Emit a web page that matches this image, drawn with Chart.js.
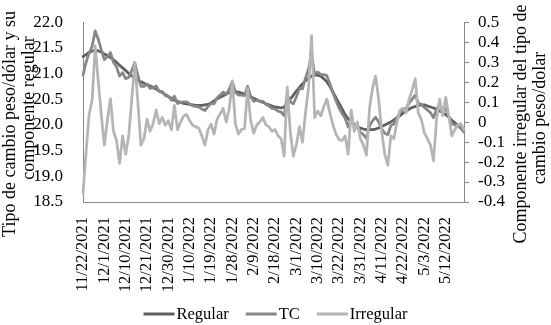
<!DOCTYPE html>
<html>
<head>
<meta charset="utf-8">
<script src="https://cdn.jsdelivr.net/npm/chart.js@4.4.0/dist/chart.umd.min.js"></script>
<style>
  html, body { margin: 0; padding: 0; background: #fff; }
  #wrap { width: 551px; height: 325px; }
</style>
</head>
<body>
<div id="wrap"><canvas id="chart" width="551" height="325"></canvas></div>
<script>
// business days, Banxico FIX
var dates = [
  '11/22/2021','11/23/2021','11/24/2021','11/25/2021','11/26/2021','11/29/2021','11/30/2021',
  '12/1/2021','12/2/2021','12/3/2021','12/6/2021','12/7/2021','12/8/2021','12/9/2021',
  '12/10/2021','12/13/2021','12/14/2021','12/15/2021','12/16/2021','12/17/2021','12/20/2021',
  '12/21/2021','12/22/2021','12/23/2021','12/24/2021','12/27/2021','12/28/2021','12/29/2021',
  '12/30/2021','12/31/2021','1/3/2022','1/4/2022','1/5/2022','1/6/2022','1/7/2022',
  '1/10/2022','1/11/2022','1/12/2022','1/13/2022','1/14/2022','1/17/2022','1/18/2022',
  '1/19/2022','1/20/2022','1/21/2022','1/24/2022','1/25/2022','1/26/2022','1/27/2022',
  '1/28/2022','1/31/2022','2/1/2022','2/2/2022','2/3/2022','2/4/2022','2/8/2022',
  '2/9/2022','2/10/2022','2/11/2022','2/14/2022','2/15/2022','2/16/2022','2/17/2022',
  '2/18/2022','2/21/2022','2/22/2022','2/23/2022','2/24/2022','2/25/2022','2/28/2022',
  '3/1/2022','3/2/2022','3/3/2022','3/4/2022','3/7/2022','3/8/2022','3/9/2022',
  '3/10/2022','3/11/2022','3/14/2022','3/15/2022','3/16/2022','3/17/2022','3/18/2022',
  '3/22/2022','3/23/2022','3/24/2022','3/25/2022','3/28/2022','3/29/2022','3/30/2022',
  '3/31/2022','4/1/2022','4/4/2022','4/5/2022','4/6/2022','4/7/2022','4/8/2022',
  '4/11/2022','4/12/2022','4/13/2022','4/18/2022','4/19/2022','4/20/2022','4/21/2022',
  '4/22/2022','4/25/2022','4/26/2022','4/27/2022','4/28/2022','4/29/2022','5/2/2022',
  '5/3/2022','5/4/2022','5/5/2022','5/6/2022','5/9/2022','5/10/2022','5/11/2022',
  '5/12/2022','5/13/2022','5/16/2022','5/17/2022','5/18/2022','5/19/2022','5/20/2022'
];

var regular = [
  21.33,21.37,21.41,21.44,21.45,21.44,21.42,21.38,21.35,21.31,
  21.27,21.22,21.16,21.11,21.06,21.00,20.95,20.91,20.87,20.84,
  20.81,20.78,20.76,20.73,20.70,20.66,20.63,20.59,20.55,20.52,
  20.48,20.46,20.44,20.42,20.41,20.40,20.39,20.38,20.38,20.38,
  20.39,20.40,20.43,20.47,20.51,20.54,20.57,20.60,20.63,20.64,
  20.65,20.64,20.62,20.60,20.58,20.55,20.52,20.49,20.46,20.44,
  20.41,20.39,20.37,20.35,20.34,20.33,20.35,20.41,20.50,20.58,
  20.66,20.73,20.80,20.86,20.91,20.95,20.97,20.97,20.95,20.90,
  20.84,20.75,20.64,20.53,20.42,20.31,20.20,20.12,20.06,20.01,
  19.97,19.94,19.92,19.91,19.91,19.91,19.92,19.94,19.97,20.00,
  20.03,20.06,20.10,20.14,20.18,20.23,20.27,20.31,20.34,20.36,
  20.38,20.39,20.39,20.37,20.35,20.33,20.30,20.27,20.24,20.20,
  20.15,20.09,20.04,19.99,19.94,19.90
];

var tc = [
  20.97,21.22,21.40,21.53,21.83,21.67,21.46,21.27,21.33,21.41,
  21.22,21.13,20.95,21.02,20.90,20.93,21.06,21.21,20.97,20.75,
  20.75,20.80,20.71,20.72,20.76,20.65,20.65,20.57,20.56,20.48,
  20.56,20.42,20.44,20.45,20.45,20.41,20.37,20.36,20.35,20.31,
  20.28,20.36,20.42,20.41,20.53,20.58,20.64,20.60,20.70,20.85,
  20.64,20.58,20.58,20.57,20.75,20.56,20.46,20.48,20.46,20.46,
  20.40,20.37,20.32,20.31,20.27,20.25,20.18,20.59,20.45,20.41,
  20.55,20.71,20.70,20.91,21.09,21.38,20.99,21.03,20.98,20.98,
  20.96,20.80,20.63,20.47,20.33,20.22,20.13,19.96,20.12,19.96,
  19.97,19.86,19.81,19.74,19.98,20.08,20.15,20.06,19.92,19.84,
  19.81,19.99,20.02,20.14,20.24,20.30,20.32,20.43,20.50,20.58,
  20.43,20.40,20.34,20.29,20.24,20.14,20.31,20.39,20.27,20.32,
  20.18,20.02,20.00,19.98,19.93,19.86
];

var irregular = [
  -0.357,-0.150,0.036,0.110,0.381,0.206,0.036,-0.115,0.009,0.118,
  -0.046,-0.092,-0.207,-0.069,-0.161,-0.069,0.114,0.298,0.100,-0.115,
  -0.083,0.015,-0.046,-0.008,0.061,-0.008,0.023,-0.016,0.007,-0.039,
  0.084,-0.039,0.000,0.030,0.038,0.007,-0.016,-0.023,-0.031,-0.069,
  -0.115,-0.039,-0.010,-0.060,0.015,0.041,0.068,0.000,0.068,0.206,
  -0.010,-0.060,-0.037,-0.033,0.169,0.009,-0.056,-0.014,0.000,0.023,
  -0.014,-0.023,-0.046,-0.037,-0.069,-0.083,-0.171,0.175,-0.046,-0.171,
  -0.115,-0.023,-0.101,0.046,0.175,0.433,0.023,0.055,0.032,0.078,
  0.115,0.046,-0.014,-0.060,-0.088,-0.092,-0.069,-0.161,0.060,-0.046,
  0.000,-0.083,-0.115,-0.166,0.069,0.170,0.230,0.115,-0.046,-0.161,
  -0.217,-0.069,-0.083,0.000,0.060,0.069,0.046,0.115,0.161,0.217,
  0.046,0.014,-0.055,-0.083,-0.115,-0.194,0.014,0.115,0.032,0.124,
  0.032,-0.069,-0.037,-0.014,-0.009,-0.037
];

var seriesNames = ['Regular', 'TC', 'Irregular'];
var seriesColors = ['#5f5f5f', '#878787', '#b5b5b5'];
var leftTitle = ['Tipo de cambio peso/dólar y su', 'componente regular'];
var rightTitle = ['Componente irregular del tipo de', 'cambio peso/dolar'];

var serif = '"Liberation Serif", "Times New Roman", serif';
var axisGray = '#888888';

// axis titles read bottom-to-top on both sides, plus the Excel-style legend
var extras = {
  id: 'extras',
  afterDraw: function(chart) {
    var ctx = chart.ctx;
    ctx.save();
    ctx.fillStyle = '#000';
    ctx.textAlign = 'center';
    ctx.textBaseline = 'middle';
    ctx.font = '18px ' + serif;
    var rot = function(txt, x, y) {
      ctx.save();
      ctx.translate(x, y);
      ctx.rotate(-Math.PI / 2);
      ctx.fillText(txt, 0, 0);
      ctx.restore();
    };
    rot(leftTitle[0], 10, 124);
    rot(leftTitle[1], 29, 108);
    rot(rightTitle[0], 521, 124);
    rot(rightTitle[1], 540, 118);

    // legend
    ctx.font = '16.5px ' + serif;
    ctx.textAlign = 'left';
    var lineLen = 31, gap = 2, itemGap = 17, ly = 314;
    var total = 0;
    seriesNames.forEach(function(n, i) {
      total += lineLen + gap + ctx.measureText(n).width;
      if (i < seriesNames.length - 1) total += itemGap;
    });
    var x = 275.5 - total / 2;
    seriesNames.forEach(function(n, i) {
      ctx.strokeStyle = seriesColors[i];
      ctx.lineWidth = 3;
      ctx.beginPath();
      ctx.moveTo(x, ly);
      ctx.lineTo(x + lineLen, ly);
      ctx.stroke();
      x += lineLen + gap;
      ctx.fillText(n, x, ly + 1);
      x += ctx.measureText(n).width + itemGap;
    });
    ctx.restore();
  }
};

var ctx = document.getElementById('chart');
var myChart = new Chart(ctx, {
  type: 'line',
  data: {
    labels: dates,
    datasets: [
      {
        label: seriesNames[0],
        data: regular,
        yAxisID: 'y',
        borderColor: seriesColors[0],
        backgroundColor: seriesColors[0],
        borderWidth: 2.75,
        order: 2
      },
      {
        label: seriesNames[1],
        data: tc,
        yAxisID: 'y',
        borderColor: seriesColors[1],
        backgroundColor: seriesColors[1],
        borderWidth: 2.75,
        order: 1
      },
      {
        label: seriesNames[2],
        data: irregular,
        yAxisID: 'y1',
        borderColor: seriesColors[2],
        backgroundColor: seriesColors[2],
        borderWidth: 2.75,
        order: 0
      }
    ]
  },
  options: {
    responsive: false,
    animation: false,
    devicePixelRatio: 1,
    elements: {
      point: { radius: 0, hoverRadius: 0 },
      line: { tension: 0, borderJoinStyle: 'round', borderCapStyle: 'round' }
    },
    layout: { padding: { top: 6, left: 0, right: 0, bottom: 0 } },
    plugins: {
      legend: { display: false },
      tooltip: { enabled: false }
    },
    scales: {
      x: {
        type: 'category',
        offset: false,
        grid: { display: false },
        border: { display: true, color: axisGray, width: 1 },
        ticks: {
          autoSkip: false,
          maxRotation: 90,
          minRotation: 90,
          padding: 7,
          color: '#000',
          font: { family: serif, size: 16.5 },
          callback: function(val, idx) {
            return idx % 7 === 0 ? dates[idx] : null;
          }
        },
        afterFit: function(s) { s.height = 123; }
      },
      y: {
        position: 'left',
        min: 18.5,
        max: 22,
        grid: { display: false },
        border: { display: true, color: axisGray, width: 1 },
        ticks: {
          autoSkip: false,
          stepSize: 0.5,
          padding: 12,
          color: '#000',
          font: { family: serif, size: 17 },
          callback: function(v) { return v.toFixed(1); }
        },
        afterFit: function(s) { s.width = 83; }
      },
      y1: {
        position: 'right',
        min: -0.4,
        max: 0.5,
        grid: {
          display: true,
          drawOnChartArea: false,
          drawTicks: true,
          tickLength: 5,
          color: axisGray
        },
        border: { display: true, color: axisGray, width: 1 },
        ticks: {
          autoSkip: false,
          stepSize: 0.1,
          padding: 9,
          color: '#000',
          font: { family: serif, size: 17 },
          callback: function(v) {
            var r = Math.round(v * 10) / 10;
            return r === 0 ? '0' : r.toFixed(1);
          }
        },
        afterFit: function(s) { s.width = 87; }
      }
    }
  },
  plugins: [extras]
});
</script>
</body>
</html>
